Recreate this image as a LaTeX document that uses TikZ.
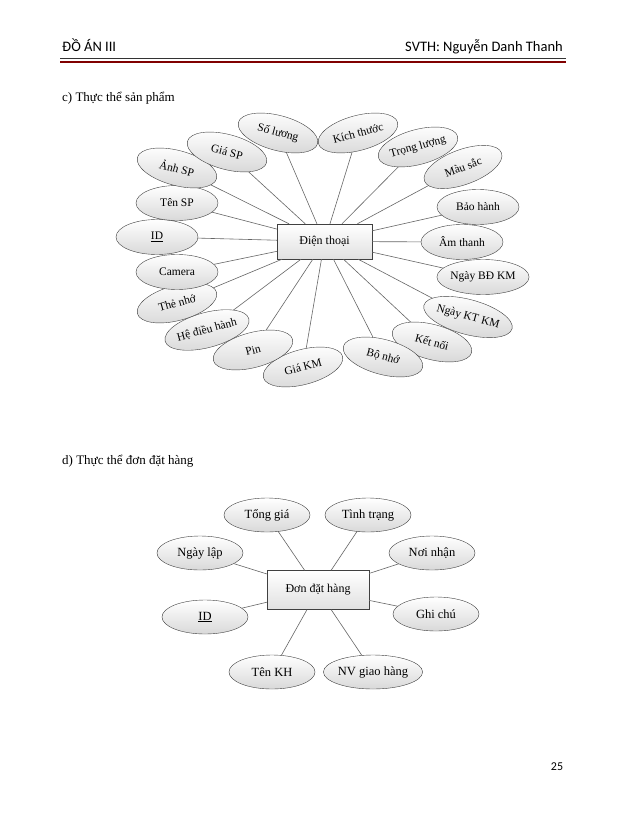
\documentclass[tikz,border=0pt]{standalone}
\usepackage{fontspec}
\setmainfont{Liberation Serif}
\newfontfamily\hdfont{Carlito}
\usetikzlibrary{shapes.geometric}
\begin{document}
\begin{tikzpicture}[x=1pt,y=-1pt,
  attr/.style={ellipse,draw=black!75,top color=white,bottom color=black!15,minimum width=82pt,minimum height=35pt,inner sep=0pt,font=\fontsize{11.5}{13}\selectfont},
  ent/.style={rectangle,draw=black!75,top color=white,bottom color=black!12,inner sep=0pt,font=\fontsize{12}{14}\selectfont},
  lnk/.style={draw=black!60,line width=0.6pt}]
\useasboundingbox (0,0) rectangle (638,826);
\fill[white] (0,0) rectangle (638,826);
% header
\node[anchor=base west,font=\hdfont\fontsize{14.5}{16}\selectfont,inner sep=0] (h1) at (62,52) {ĐỒ ÁN III};
\node[anchor=base east,font=\hdfont\fontsize{14.5}{16}\selectfont,inner sep=0] (h2) at (563,52) {SVTH: Nguyễn Danh Thanh};
\draw[black!80,line width=0.6pt] (60,58.5) -- (566,58.5);
\draw[red!50!black,line width=2pt] (60,62) -- (566,62);
\node[anchor=base west,font=\fontsize{13}{15}\selectfont,inner sep=0] (c1) at (62,102) {c) Thực thể sản phẩm};
\node[anchor=base west,font=\fontsize{13}{15}\selectfont,inner sep=0] (c2) at (62,464) {d) Thực thể đơn đặt hàng};
\node[font=\hdfont\fontsize{12}{14}\selectfont,inner sep=0] (pg) at (557,767) {25};
% top diagram
\node[ent,minimum width=95pt,minimum height=35pt] (dt) at (324.5,241.5) {Điện thoại};
\foreach \n/\x/\y/\r/\t in {
 a1/278/133/-15/Số lương, a2/358/133/15/Kích thước, a3/418/147/15/Trọng lượng,
 a4/463/167/20/Màu sắc, a5/478/207/0/Bảo hành, a6/462/242/0/Âm thanh,
 a7/483/277/0/Ngày BĐ KM, a8/468/317/-15/Ngày KT KM, a9/432/342/-15/Kết nối,
 a10/383/357/-15/Bộ nhớ, a11/303/367/15/Giá KM, a12/253/350/15/Pin,
 a13/207/330/15/Hệ điều hành, a14/177/303/15/Thẻ nhớ, a15/177/272/0/Camera,
 a16/157/237/0/\underline{ID}, a17/177/203/0/Tên SP, a18/177/168/-15/Ảnh SP,
 a19/227/152/-15/Giá SP}{
 \draw[lnk] (\x,\y) -- (dt);
 \node[attr,rotate=\r] (\n) at (\x,\y) {\t};
}
% bottom diagram
\node[ent,minimum width=102pt,minimum height=39pt] (dh) at (318,590) {Đơn đặt hàng};
\foreach \n/\x/\y/\t in {
 b1/267/515/Tổng giá, b2/368/515/Tình trạng, b3/432/553/Nơi nhận,
 b4/436/614/Ghi chú, b5/200/553/Ngày lập, b6/205/617/\underline{ID},
 b7/272/672/Tên KH, b8/373/672/NV giao hàng}{
 \draw[lnk] (\x,\y) -- (dh);
 \node[attr,minimum width=86pt,minimum height=34pt,font=\fontsize{12.5}{14}\selectfont] (\n) at (\x,\y) {\t};
}
\end{tikzpicture}
\end{document}
